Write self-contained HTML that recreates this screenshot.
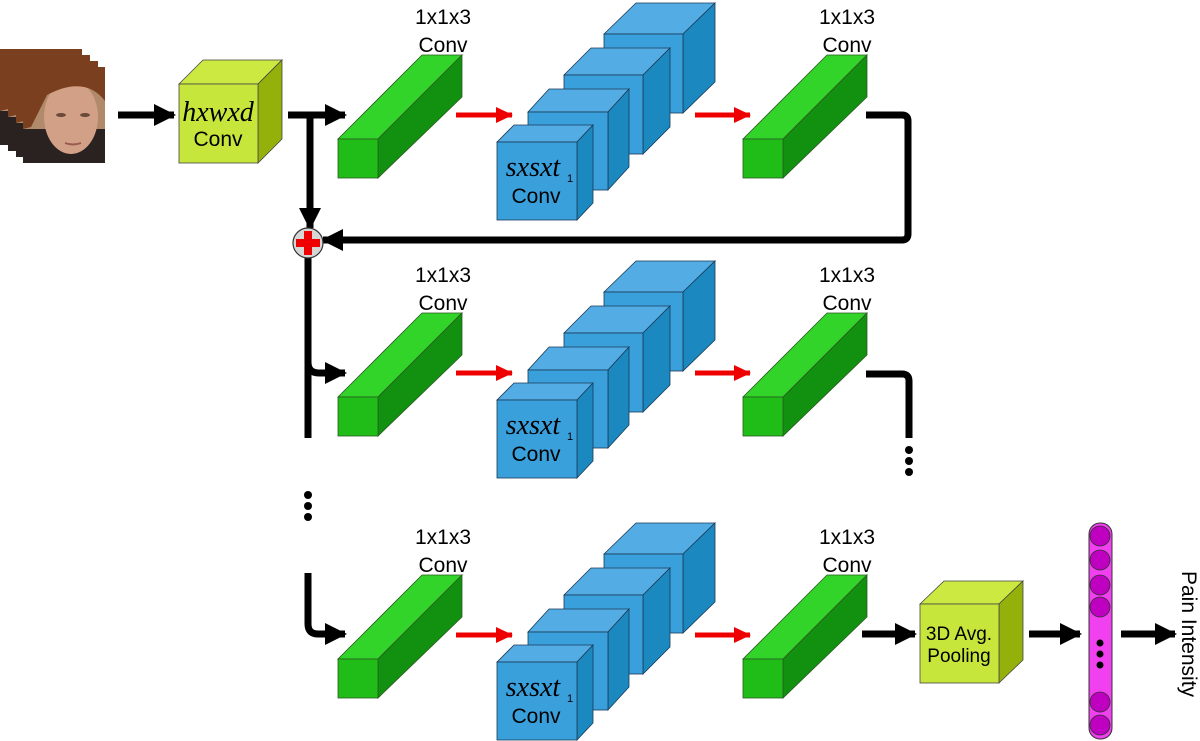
<!DOCTYPE html>
<html><head><meta charset="utf-8"><style>html,body{margin:0;padding:0;background:#fff;}svg{display:block}</style></head>
<body>
<svg width="1200" height="741" viewBox="0 0 1200 741" xmlns="http://www.w3.org/2000/svg" font-family="Liberation Sans, sans-serif">
<defs>
<marker id="ab" markerWidth="24" markerHeight="24" refX="20" refY="12" orient="auto" markerUnits="userSpaceOnUse"><path d="M0,1 L22,12 L0,23 Z" fill="#000"/></marker>
<marker id="ar" markerWidth="18" markerHeight="18" refX="16" refY="9" orient="auto" markerUnits="userSpaceOnUse"><path d="M0,1 L17,9 L0,17 Z" fill="#e00"/></marker>
<g id="face">
<rect x="0" y="0" width="82" height="96" fill="#b08a6a"/>
<rect x="0" y="62" width="82" height="34" fill="#2a2220"/>
<ellipse cx="48" cy="50" rx="27" ry="37" fill="#d2a086"/>
<path d="M0,0 H82 V34 Q62,8 24,28 L8,60 L0,62 Z" fill="#7a3f1e"/>
<ellipse cx="38" cy="48" rx="5" ry="2" fill="#6a4a3a"/><ellipse cx="62" cy="48" rx="5" ry="2" fill="#6a4a3a"/>
<path d="M42,76 Q50,79 58,76" stroke="#9a5a50" stroke-width="2" fill="none"/>
</g>
<g id="green">
<polygon points="0,0 40,0 124,-84 84,-84" fill="#33d42a" stroke="#2a5a22" stroke-width="0.8"/>
<polygon points="40,0 124,-84 124,-42 40,39" fill="#129110" stroke="#2a5a22" stroke-width="0.8"/>
<rect x="0" y="0" width="40" height="39" fill="#20bd18" stroke="#2a5a22" stroke-width="0.8"/>
</g>
<g id="row">
<use href="#green" x="338" y="139"/>
<use href="#green" x="743" y="139"/>
<text x="443" y="24" font-size="21" text-anchor="middle">1x1x3</text>
<text x="443" y="52" font-size="21" text-anchor="middle">Conv</text>
<text x="847" y="24" font-size="21" text-anchor="middle">1x1x3</text>
<text x="847" y="52" font-size="21" text-anchor="middle">Conv</text>
<line x1="456" y1="115" x2="512" y2="115" stroke="#e00" stroke-width="5" marker-end="url(#ar)"/>
<line x1="695" y1="115" x2="750" y2="115" stroke="#e00" stroke-width="5" marker-end="url(#ar)"/>
<polygon points="604,34 636,3 715,3 683,34" fill="#53ace4" stroke="#1a3a55" stroke-width="0.8"/>
<polygon points="683,34 715,3 715,82 683,113" fill="#1b88c0" stroke="#1a3a55" stroke-width="0.8"/>
<rect x="604" y="34" width="79" height="79" fill="#3aa0dc" stroke="#1a3a55" stroke-width="0.8"/>
<polygon points="564,75 591,48 670,48 643,75" fill="#53ace4" stroke="#1a3a55" stroke-width="0.8"/>
<polygon points="643,75 670,48 670,127 643,154" fill="#1b88c0" stroke="#1a3a55" stroke-width="0.8"/>
<rect x="564" y="75" width="79" height="79" fill="#3aa0dc" stroke="#1a3a55" stroke-width="0.8"/>
<polygon points="528,112 549,89 629,89 608,112" fill="#53ace4" stroke="#1a3a55" stroke-width="0.8"/>
<polygon points="608,112 629,89 629,167 608,190" fill="#1b88c0" stroke="#1a3a55" stroke-width="0.8"/>
<rect x="528" y="112" width="80" height="78" fill="#3aa0dc" stroke="#1a3a55" stroke-width="0.8"/>
<polygon points="497,142 514,125 593,125 577,142" fill="#53ace4" stroke="#1a3a55" stroke-width="0.8"/>
<polygon points="577,142 593,125 593,203 577,220" fill="#1b88c0" stroke="#1a3a55" stroke-width="0.8"/>
<rect x="497" y="142" width="80" height="78" fill="#3aa0dc" stroke="#1a3a55" stroke-width="0.8"/>
<text x="533" y="176" font-size="28" font-style="italic" font-family="Liberation Serif, serif" text-anchor="middle">sxsxt</text>
<text x="570" y="182" font-size="11" text-anchor="middle">1</text>
<text x="536" y="203" font-size="21" text-anchor="middle">Conv</text>
</g>
</defs>

<use href="#face" x="0" y="49"/>
<use href="#face" x="8" y="55"/>
<use href="#face" x="16" y="61"/>
<use href="#face" x="23" y="67"/>

<line x1="118" y1="115" x2="174" y2="115" stroke="#000" stroke-width="7" marker-end="url(#ab)"/>

<polygon points="179,84 203,60 282,60 258,84" fill="#cbe941" stroke="#444" stroke-width="0.8"/>
<polygon points="258,84 282,60 282,139 258,163" fill="#94b00a" stroke="#444" stroke-width="0.8"/>
<rect x="179" y="84" width="79" height="79" fill="#c6e63c" stroke="#444" stroke-width="0.8"/>
<text x="218" y="121" font-size="28" font-style="italic" font-family="Liberation Serif, serif" text-anchor="middle">hxwxd</text>
<text x="218" y="146" font-size="21" text-anchor="middle">Conv</text>

<use href="#row" x="0" y="0"/>
<use href="#row" x="0" y="258"/>
<use href="#row" x="0" y="520"/>

<g stroke="#000" stroke-width="7" fill="none">
<line x1="288" y1="115" x2="345" y2="115" marker-end="url(#ab)"/>
<line x1="310" y1="115" x2="310" y2="228" marker-end="url(#ab)"/>
<path d="M866,115 H902 Q908,115 908,121 V234 Q908,240 902,240 H323" marker-end="url(#ab)"/>
<path d="M308,258 V438"/>
<path d="M308,362 Q308,373 319,373 H345" marker-end="url(#ab)"/>
<path d="M866,374 H902 Q909,374 909,381 V438"/>
<path d="M308,573 V624 Q308,634 318,634 H345" marker-end="url(#ab)"/>
<line x1="862" y1="634" x2="915" y2="634" marker-end="url(#ab)"/>
<line x1="1029" y1="634" x2="1080" y2="634" marker-end="url(#ab)"/>
<line x1="1121" y1="634" x2="1175" y2="634" marker-end="url(#ab)"/>
</g>

<circle cx="308" cy="243" r="15" fill="#d6d6d6" stroke="#333" stroke-width="1.2"/>
<rect x="296" y="239" width="24" height="8" fill="#e00"/>
<rect x="304" y="231" width="8" height="24" fill="#e00"/>

<g fill="#000">
<circle cx="308" cy="495" r="4"/><circle cx="308" cy="506" r="4"/><circle cx="308" cy="517" r="4"/>
<circle cx="909" cy="450" r="4"/><circle cx="909" cy="461" r="4"/><circle cx="909" cy="472" r="4"/>
</g>

<polygon points="920,604 944,581 1023,581 999,604" fill="#cbe941" stroke="#444" stroke-width="0.8"/>
<polygon points="999,604 1023,581 1023,660 999,683" fill="#94b00a" stroke="#444" stroke-width="0.8"/>
<rect x="920" y="604" width="79" height="79" fill="#c6e63c" stroke="#444" stroke-width="0.8"/>
<text x="959" y="640" font-size="19" text-anchor="middle">3D Avg.</text>
<text x="959" y="662" font-size="19" text-anchor="middle">Pooling</text>

<rect x="1089" y="523" width="23" height="216" rx="11" fill="#f040f0" stroke="#333" stroke-width="1"/>
<g fill="#c000c0" stroke="#333" stroke-width="0.8">
<circle cx="1100" cy="536" r="10"/><circle cx="1100" cy="560" r="10"/><circle cx="1100" cy="585" r="10"/><circle cx="1100" cy="607" r="10"/>
<circle cx="1100" cy="702" r="10"/><circle cx="1100" cy="725" r="10"/>
</g>
<g fill="#000"><circle cx="1100" cy="643" r="3.5"/><circle cx="1100" cy="654" r="3.5"/><circle cx="1100" cy="665" r="3.5"/></g>

<text transform="translate(1182,634) rotate(90)" font-size="21" text-anchor="middle">Pain Intensity</text>
</svg>
</body></html>
